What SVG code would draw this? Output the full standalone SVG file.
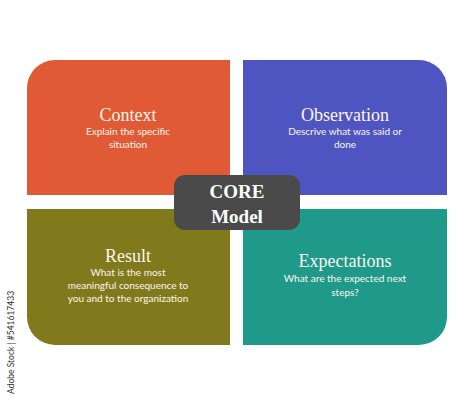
<svg xmlns="http://www.w3.org/2000/svg" width="474" height="406" viewBox="0 0 474 406">
<style>
.title{font-family:"Liberation Serif",serif;font-size:18px;fill:#fdf6ec;text-anchor:middle}
.sub{font-family:Lato,"Open Sans",sans-serif;font-size:10px;fill:#fdf6ec;text-anchor:middle}
.core{font-family:"Liberation Serif",serif;font-size:19px;font-weight:bold;fill:#ffffff;text-anchor:middle}
</style>
<rect width="474" height="406" fill="#ffffff"/>
<g id="connectors"></g>
<g id="context">
<path d="M27,195 V88 A28,28 0 0 1 55,60 H230 V195 Z" fill="#e05a36"/>
<text class="title" x="128" y="121">Context</text>
<text class="sub" x="128" y="135">Explain the specific</text>
<text class="sub" x="128" y="148">situation</text>
</g>
<g id="observation">
<path d="M243,60 H419 A28,28 0 0 1 447,88 V195 H243 Z" fill="#4f55c0"/>
<text class="title" x="345" y="121">Observation</text>
<text class="sub" x="345" y="135">Descrive what was said or</text>
<text class="sub" x="345" y="148">done</text>
</g>
<g id="result">
<path d="M27,209 H230 V345 H55 A28,28 0 0 1 27,317 Z" fill="#807a1c"/>
<text class="title" x="128" y="262">Result</text>
<text class="sub" x="128" y="276">What is the most</text>
<text class="sub" x="128" y="289">meaningful consequence to</text>
<text class="sub" x="128" y="302">you and to the organization</text>
</g>
<g id="expectations">
<path d="M243,209 H447 V317 A28,28 0 0 1 419,345 H243 Z" fill="#1f9a8a"/>
<text class="title" x="345" y="267">Expectations</text>
<text class="sub" x="345" y="282">What are the expected next</text>
<text class="sub" x="345" y="296">steps?</text>
</g>
<g id="core">
<rect x="174" y="175" width="126" height="55" rx="11" fill="#4a4a4a"/>
<text class="core" x="237" y="198">CORE</text>
<text class="core" x="237" y="223">Model</text>
</g>
<text x="14" y="394" transform="rotate(-90 14 394)" font-family="Lato,'Open Sans',sans-serif" font-size="8.5" fill="#333333">Adobe Stock | #541617433</text>
</svg>
